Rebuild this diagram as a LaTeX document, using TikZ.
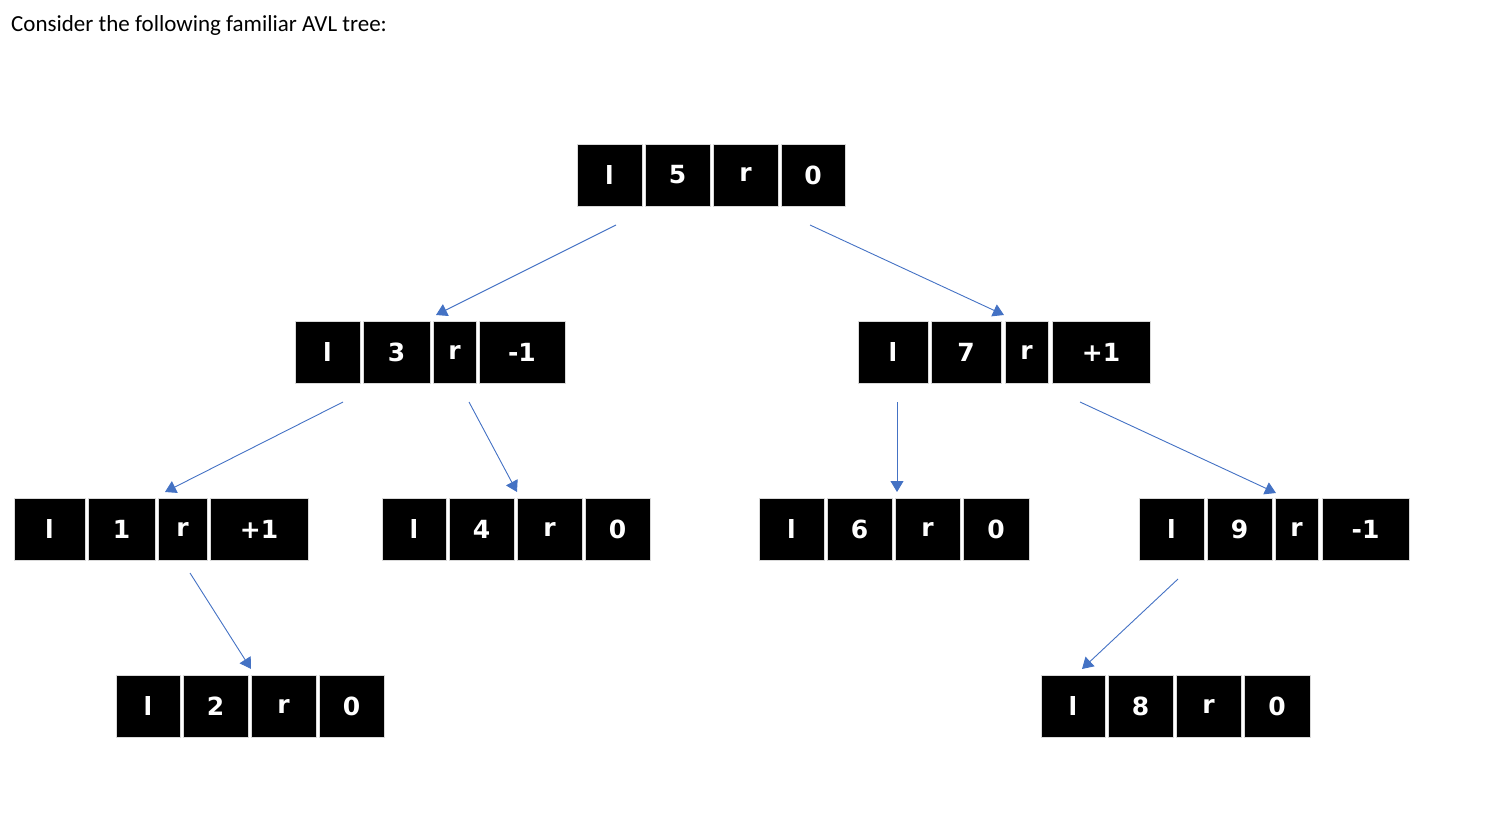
\documentclass[tikz,border=0pt]{standalone}
\usepackage{fontspec}
\setmainfont{Carlito}
\newfontfamily\cellfont{DejaVu Sans}
\usetikzlibrary{arrows.meta}
\definecolor{arrblue}{HTML}{4472C4}
\tikzset{
  cell/.style={fill=black,draw=black!15,line width=0.6pt,text=white,font=\cellfont\bfseries\fontsize{25}{25}\selectfont,inner sep=0pt,anchor=center},
  link/.style={draw=arrblue,line width=0.9pt,-{Triangle[width=13pt,length=11pt]}}
}
\newcommand\rc[6]{\node[cell,minimum width={(#3-#2)*1pt},minimum height={(#5-#4)*1pt}] (#1) at ({(#2+#3)/2},{(#4+#5)/2}) {#6};}
\begin{document}
\begin{tikzpicture}[x=1pt,y=-1pt]
\useasboundingbox (0,0) rectangle (1492,818);
\node[anchor=west,font=\fontsize{23}{23}\selectfont,inner sep=0pt] (title) at (11,25) {Consider the following familiar AVL tree:};
% root 5
\rc{a1}{577}{642}{144}{206}{l}\rc{a2}{645}{710}{144}{206}{5}\rc{a3}{713}{778}{144}{206}{r}\rc{a4}{781}{845}{144}{206}{0}
% 3
\rc{b1}{295}{360}{321}{383}{l}\rc{b2}{363}{430}{321}{383}{3}\rc{b3}{433}{476}{321}{383}{r}\rc{b4}{479}{565}{321}{383}{-1}
% 7
\rc{c1}{858}{928}{321}{383}{l}\rc{c2}{931}{1001}{321}{383}{7}\rc{c3}{1005}{1048}{321}{383}{r}\rc{c4}{1052}{1150}{321}{383}{+1}
% 1
\rc{d1}{14}{85}{498}{560}{l}\rc{d2}{88}{155}{498}{560}{1}\rc{d3}{158}{207}{498}{560}{r}\rc{d4}{210}{308}{498}{560}{+1}
% 4
\rc{e1}{382}{446}{498}{560}{l}\rc{e2}{449}{514}{498}{560}{4}\rc{e3}{517}{582}{498}{560}{r}\rc{e4}{585}{650}{498}{560}{0}
% 6
\rc{f1}{759}{824}{498}{560}{l}\rc{f2}{827}{892}{498}{560}{6}\rc{f3}{895}{960}{498}{560}{r}\rc{f4}{963}{1029}{498}{560}{0}
% 9
\rc{g1}{1139}{1204}{498}{560}{l}\rc{g2}{1207}{1272}{498}{560}{9}\rc{g3}{1275}{1318}{498}{560}{r}\rc{g4}{1322}{1409}{498}{560}{-1}
% 2
\rc{h1}{116}{180}{675}{737}{l}\rc{h2}{183}{248}{675}{737}{2}\rc{h3}{251}{316}{675}{737}{r}\rc{h4}{319}{384}{675}{737}{0}
% 8
\rc{i1}{1041}{1105}{675}{737}{l}\rc{i2}{1108}{1173}{675}{737}{8}\rc{i3}{1176}{1241}{675}{737}{r}\rc{i4}{1244}{1310}{675}{737}{0}
% arrow coordinates
\coordinate (s1) at (616,225); \coordinate (t1) at (436,315);
\coordinate (s2) at (810,225); \coordinate (t2) at (1004,315);
\coordinate (s3) at (343,402); \coordinate (t3) at (165,492);
\coordinate (s4) at (469,402); \coordinate (t4) at (517,492);
\coordinate (s5) at (897,402); \coordinate (t5) at (897,492);
\coordinate (s6) at (1080,402); \coordinate (t6) at (1276,493);
\coordinate (s7) at (190,573); \coordinate (t7) at (251,669);
\coordinate (s8) at (1178,579); \coordinate (t8) at (1082,669);
\foreach \k in {1,...,8} {\draw[link] (s\k) -- (t\k);}
\end{tikzpicture}
\end{document}
